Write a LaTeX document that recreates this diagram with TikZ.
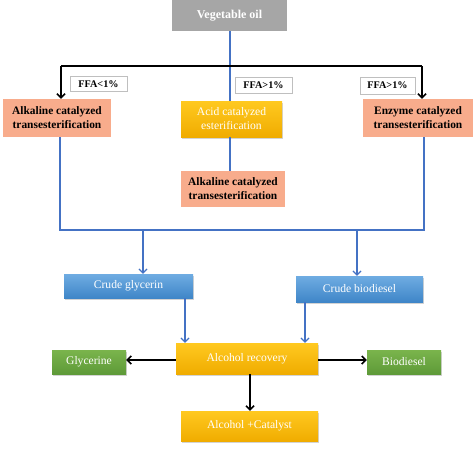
\documentclass[tikz,border=0pt]{standalone}
\usepackage{fontspec}
\setmainfont{Liberation Serif}
\usetikzlibrary{arrows.meta,shadows}
\definecolor{salmon}{HTML}{F8AC8C}
\definecolor{goldT}{HTML}{FFC920}
\definecolor{goldB}{HTML}{F0AC00}
\definecolor{blueT}{HTML}{6FACE2}
\definecolor{blueB}{HTML}{3F86C8}
\definecolor{greenT}{HTML}{7AB44C}
\definecolor{greenB}{HTML}{5E9A38}
\definecolor{grayfill}{HTML}{A6A6A6}
\definecolor{lineblue}{HTML}{4472C4}
\tikzset{
  box/.style={rectangle, inner sep=1pt, align=center, font=\fontsize{11.6}{14}\selectfont},
  salmonbox/.style={box, fill=salmon, text=black, font=\fontsize{11.4}{14}\selectfont\bfseries},
  goldbox/.style={box, top color=goldT, bottom color=goldB, text=white, drop shadow={opacity=0.35, shadow xshift=1pt, shadow yshift=-1.5pt}},
  bluebox/.style={box, top color=blueT, bottom color=blueB, text=white, drop shadow={opacity=0.35, shadow xshift=1pt, shadow yshift=-1.5pt}},
  greenbox/.style={box, top color=greenT, bottom color=greenB, text=white, drop shadow={opacity=0.35, shadow xshift=1pt, shadow yshift=-1.5pt}},
  ffabox/.style={rectangle, draw=black!25, fill=white, inner sep=0pt, font=\fontsize{10.2}{11}\selectfont\bfseries},
  bline/.style={draw=lineblue, line width=1.2pt},
  barrow/.style={bline, -{Straight Barb[length=4pt,width=8pt]}},
  kline/.style={draw=black, line width=1.5pt},
  karrow/.style={kline, -{Straight Barb[length=4pt,width=8pt]}}
}
\begin{document}
\begin{tikzpicture}[x=1pt,y=-1pt]
\useasboundingbox (0,0) rectangle (474,448);
% nodes
\node[box, fill=grayfill, text=white, font=\fontsize{12}{13}\selectfont\bfseries, minimum width=115pt, minimum height=31pt] (veg) at (229.5,15.5) {Vegetable oil};
\node[salmonbox, minimum width=108pt, minimum height=38pt] (alk1) at (57,118) {Alkaline catalyzed\\transesterification};
\node[goldbox, minimum width=101pt, minimum height=36pt] (acid) at (231.5,119) {Acid catalyzed\\esterification};
\node[salmonbox, minimum width=110pt, minimum height=38pt] (enz) at (418,118) {Enzyme catalyzed\\transesterification};
\node[salmonbox, minimum width=104pt, minimum height=36pt] (alk2) at (233,189) {Alkaline catalyzed\\transesterification};
\node[ffabox, minimum width=57pt, minimum height=15pt] (ffa1) at (98.5,84) {FFA<1\%};
\node[ffabox, minimum width=57pt, minimum height=16pt] (ffa2) at (263.5,85) {FFA>1\%};
\node[ffabox, minimum width=55pt, minimum height=17pt] (ffa3) at (387.5,85.5) {FFA>1\%};
\node[bluebox, minimum width=129pt, minimum height=24pt] (cg) at (128.5,286) {Crude glycerin};
\node[bluebox, minimum width=127pt, minimum height=26pt] (cb) at (359.5,289) {Crude biodiesel};
\node[goldbox, minimum width=142pt, minimum height=31pt] (ar) at (247,358.5) {Alcohol recovery};
\node[greenbox, minimum width=74pt, minimum height=24pt] (gly) at (89,362) {Glycerine};
\node[greenbox, minimum width=74pt, minimum height=24pt] (bio) at (404,362) {Biodiesel};
\node[goldbox, minimum width=137pt, minimum height=30pt] (ac) at (249.5,426) {Alcohol +Catalyst};
% junction coordinates
\coordinate (jL) at (61,66);
\coordinate (jR) at (422,66);
\coordinate (vtop) at (230,31);
\coordinate (bL) at (60,230);
\coordinate (bR) at (424,230);
\coordinate (cgIn) at (143,230);
\coordinate (cbIn) at (357,230);
\coordinate (cgOut) at (185,298);
\coordinate (cbOut) at (305,302);
\coordinate (side) at (0,360);
\coordinate (down) at (250,0);
% connectors
\draw[bline] (vtop) -- (vtop |- acid.north);
\draw[kline] (jL) -- (jR);
\draw[karrow] (jL) -- (jL |- alk1.north);
\draw[karrow] (jR) -- (jR |- enz.north);
\draw[bline] (vtop |- acid.south) -- (vtop |- alk2.north);
\draw[bline] (bL |- alk1.south) -- (bL) -- (bR) -- (bR |- enz.south);
\draw[barrow] (cgIn) -- (cgIn |- cg.north);
\draw[barrow] (cbIn) -- (cbIn |- cb.north);
\draw[barrow] (cgOut) -- (cgOut |- ar.north);
\draw[barrow] (cbOut) -- (cbOut |- ar.north);
\draw[karrow] (ar.west |- side) -- (gly.east |- side);
\draw[karrow] (ar.east |- side) -- (bio.west |- side);
\draw[karrow] (down |- ar.south) -- (down |- ac.north);
\end{tikzpicture}
\end{document}
